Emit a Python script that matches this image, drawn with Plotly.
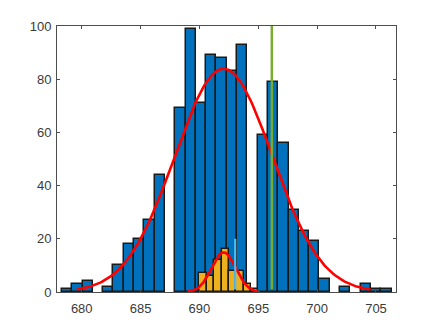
import numpy as np
import plotly.graph_objects as go

# Full sample: 32 bins of width 0.875 starting at 678.32
all_start = 678.32
all_width = 0.875
all_counts = [1, 3, 4, 0, 2, 10, 18, 20, 27, 44, 0, 69, 99, 71, 89, 88,
              83, 93, 0, 59, 79, 56, 31, 23, 19, 5, 0, 2, 0, 3, 1, 1]

# Subset: 8 bins of width 0.625 starting at 690
sub_start = 690.0
sub_width = 0.625
sub_counts = [7, 6, 12, 16, 8, 8, 3, 1]

# Normal fits (mean, standard deviation)
all_fit_mean, all_fit_sd = 692.05, 4.16
sub_fit_mean, sub_fit_sd = 692.05, 1.02

# Reference markers
marker_a_x, marker_a_top = 693.04, 20
marker_b_x, marker_b_top = 696.15, 100

x_ticks = [680, 685, 690, 695, 700, 705]
y_ticks = [0, 20, 40, 60, 80, 100]


def centers(start, width, n):
    return [start + width * (i + 0.5) for i in range(n)]


def fit_curve(mean, sd, n_total, width):
    xs = np.linspace(mean - 3 * sd, mean + 3 * sd, 200)
    ys = n_total * width / (sd * np.sqrt(2 * np.pi)) * np.exp(-0.5 * ((xs - mean) / sd) ** 2)
    return xs, ys


fig = go.Figure()

fig.add_trace(go.Bar(
    x=centers(all_start, all_width, len(all_counts)),
    y=[c if c > 0 else None for c in all_counts],
    width=all_width,
    marker=dict(color="#0072BD", line=dict(color="#1a1a1a", width=1.5)),
    showlegend=False,
))
fig.add_trace(go.Bar(
    x=centers(sub_start, sub_width, len(sub_counts)),
    y=[c if c > 0 else None for c in sub_counts],
    width=sub_width,
    marker=dict(color="#EDB120", line=dict(color="#1a1a1a", width=1.5)),
    showlegend=False,
))

for mean, sd, counts, width in [(all_fit_mean, all_fit_sd, all_counts, all_width),
                                (sub_fit_mean, sub_fit_sd, sub_counts, sub_width)]:
    xs, ys = fit_curve(mean, sd, sum(counts), width)
    fig.add_trace(go.Scatter(x=xs, y=ys, mode="lines",
                             line=dict(color="#FF0000", width=2.6),
                             showlegend=False, hoverinfo="skip"))

fig.add_trace(go.Scatter(x=[marker_a_x, marker_a_x], y=[1, marker_a_top], mode="lines",
                         line=dict(color="#4DBEEE", width=2.2), showlegend=False))
fig.add_trace(go.Scatter(x=[marker_b_x, marker_b_x], y=[1, marker_b_top], mode="lines",
                         line=dict(color="#77AC30", width=2.5), showlegend=False))

axis_common = dict(
    showgrid=False, zeroline=False,
    showline=True, linecolor="#4d4d4d", linewidth=1, mirror="allticks",
    ticks="inside", ticklen=3, tickcolor="#4d4d4d", tickwidth=1,
    tickfont=dict(family="Liberation Sans, Arial, sans-serif", size=13, color="#3a3a3a"),
)

fig.update_xaxes(range=[677.9, 706.7], tickvals=x_ticks, ticklabelstandoff=4, **axis_common)
fig.update_yaxes(range=[0, 100], tickvals=y_ticks, ticklabelstandoff=2, **axis_common)

fig.update_layout(
    width=439, height=329,
    margin=dict(l=57, r=43, t=26, b=37),
    barmode="overlay", bargap=0,
    paper_bgcolor="white", plot_bgcolor="white",
)

fig.write_html("out.html")
